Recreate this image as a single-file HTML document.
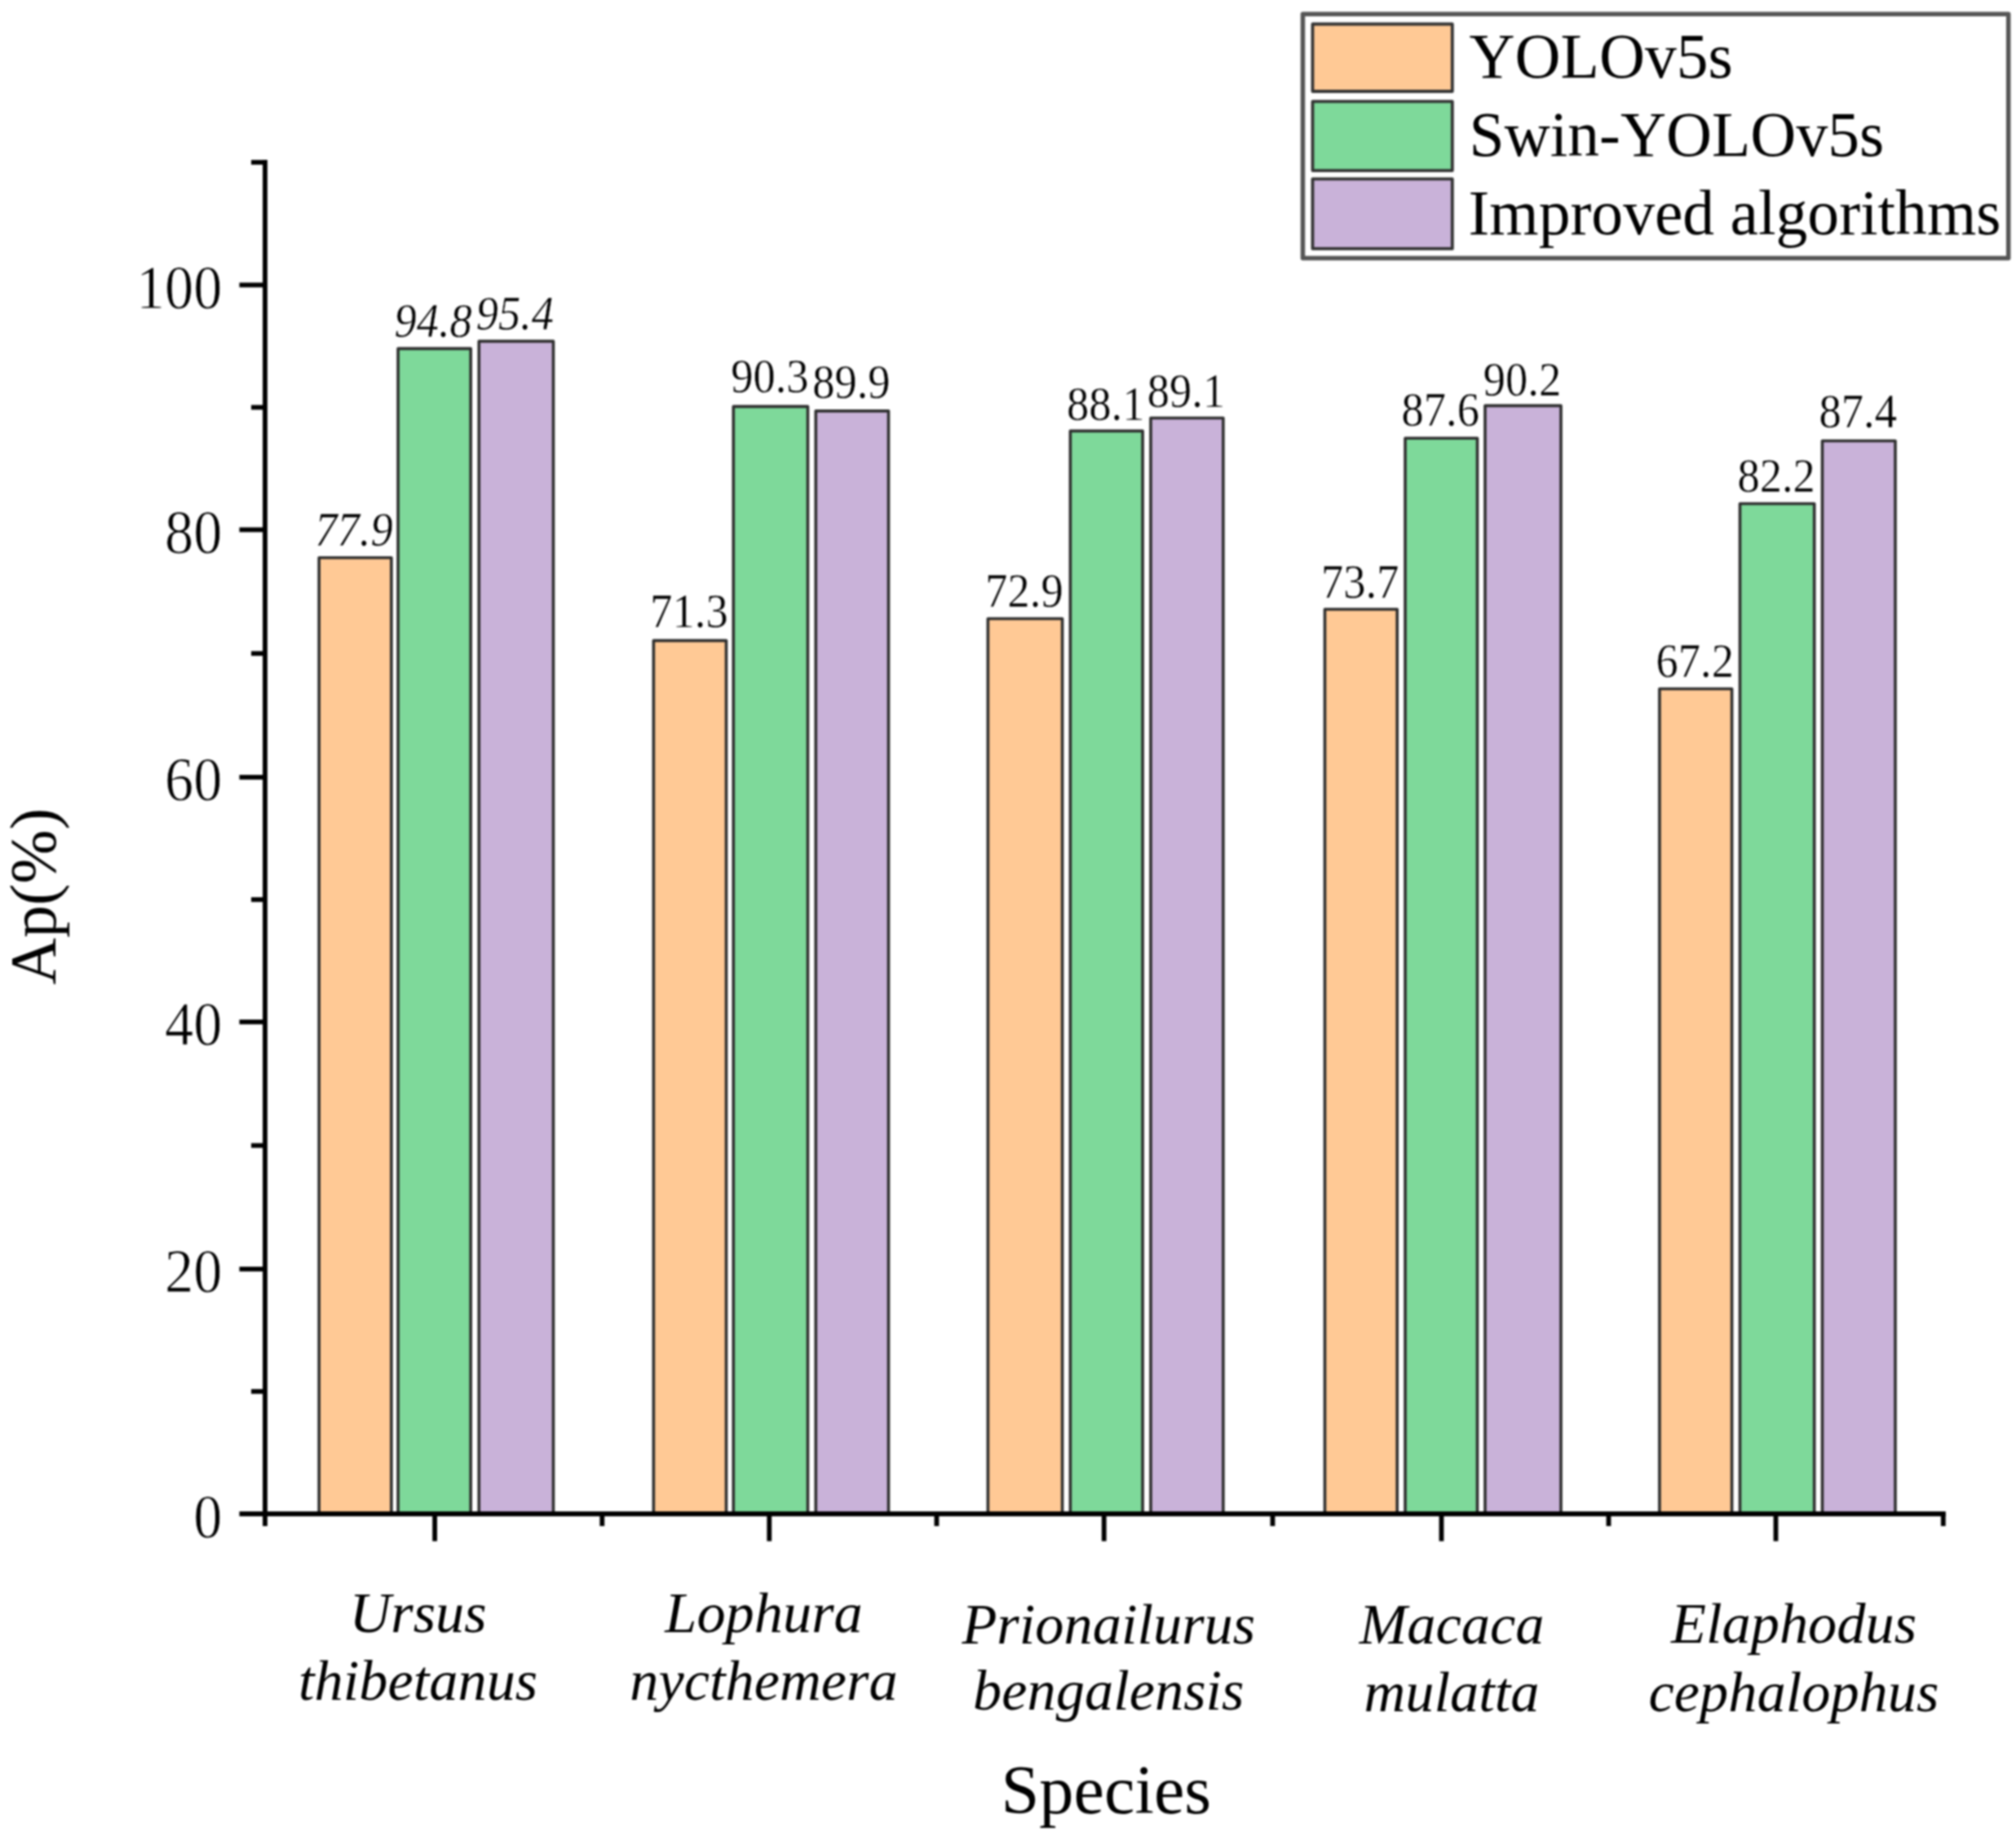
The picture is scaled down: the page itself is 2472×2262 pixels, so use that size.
<!DOCTYPE html>
<html lang="en"><head><meta charset="utf-8"><title>AP by species</title>
<style>html,body{margin:0;padding:0;background:#fff;overflow:hidden}svg{display:block;filter:blur(0.8px)}text{font-family:"Liberation Serif",serif;fill:#000}.tk{font-size:70.4px;stroke:#fff;stroke-width:0.8px}.cat{font-size:70.4px;font-style:italic;text-anchor:middle}.val{font-size:54.5px;font-style:italic;text-anchor:middle;stroke:#fff;stroke-width:0.4px}.leg{font-size:77.6px}.ttl{font-size:84.4px;text-anchor:middle}</style></head><body>
<svg width="2472" height="2262" viewBox="0 0 2472 2262">
<rect width="2472" height="2262" fill="#fff"/>
<g stroke="#2e2e2e" stroke-width="3.6" stroke-linejoin="round">
<rect x="391.20" y="683.71" width="88.70" height="1172.29" fill="#FFC995"/>
<rect x="488.10" y="427.41" width="89.10" height="1428.59" fill="#7ED99A"/>
<rect x="587.30" y="418.41" width="91.20" height="1437.59" fill="#C9B2D9"/>
<rect x="801.40" y="785.35" width="89.10" height="1070.65" fill="#FFC995"/>
<rect x="899.30" y="498.42" width="91.20" height="1357.58" fill="#7ED99A"/>
<rect x="1000.30" y="503.83" width="89.20" height="1352.17" fill="#C9B2D9"/>
<rect x="1211.40" y="758.57" width="91.20" height="1097.43" fill="#FFC995"/>
<rect x="1312.40" y="528.33" width="88.70" height="1327.67" fill="#7ED99A"/>
<rect x="1411.00" y="512.53" width="88.90" height="1343.47" fill="#C9B2D9"/>
<rect x="1624.50" y="747.04" width="88.70" height="1108.96" fill="#FFC995"/>
<rect x="1723.05" y="537.23" width="88.45" height="1318.77" fill="#7ED99A"/>
<rect x="1821.00" y="497.42" width="93.00" height="1358.58" fill="#C9B2D9"/>
<rect x="2034.90" y="844.46" width="88.70" height="1011.54" fill="#FFC995"/>
<rect x="2133.50" y="617.44" width="91.20" height="1238.56" fill="#7ED99A"/>
<rect x="2234.50" y="540.53" width="89.50" height="1315.47" fill="#C9B2D9"/>
</g>
<g class="val">
<text transform="translate(434.0 668.9) scale(1 1.07)">77.9</text>
<text transform="translate(531.1 413.4) scale(1 1.07)">94.8</text>
<text transform="translate(631.4 404.4) scale(1 1.07)">95.4</text>
<text transform="translate(845.0 768.5) scale(1 1.07)" style="font-style:normal">71.3</text>
<text transform="translate(943.9 480.9) scale(1 1.07)" style="font-style:normal">90.3</text>
<text transform="translate(1043.9 487.5) scale(1 1.07)" style="font-style:normal">89.9</text>
<text transform="translate(1256.0 744.2) scale(1 1.07)" style="font-style:normal">72.9</text>
<text transform="translate(1355.8 514.5) scale(1 1.07)" style="font-style:normal">88.1</text>
<text transform="translate(1454.5 499.3) scale(1 1.07)" style="font-style:normal">89.1</text>
<text transform="translate(1667.8 732.6) scale(1 1.07)" style="font-style:normal">73.7</text>
<text transform="translate(1766.3 522.0) scale(1 1.07)" style="font-style:normal">87.6</text>
<text transform="translate(1866.5 484.9) scale(1 1.07)" style="font-style:normal">90.2</text>
<text transform="translate(2078.2 829.7) scale(1 1.07)" style="font-style:normal">67.2</text>
<text transform="translate(2178.1 603.4) scale(1 1.07)" style="font-style:normal">82.2</text>
<text transform="translate(2278.2 524.4) scale(1 1.07)" style="font-style:normal">87.4</text>
</g>
<g stroke="#000" stroke-width="5.8" fill="none" stroke-linecap="butt">
<path d="M325 196 V1871"/>
<path d="M293.5 1856 H2385.8"/>
<path d="M2382.8 1856 V1871"/>
<path d="M293.5 1555.90 H325"/>
<path d="M293.5 1252.90 H325"/>
<path d="M293.5 952.90 H325"/>
<path d="M293.5 649.45 H325"/>
<path d="M293.5 349.40 H325"/>
<path d="M308 1705.95 H325"/>
<path d="M308 1404.40 H325"/>
<path d="M308 1102.90 H325"/>
<path d="M308 801.17 H325"/>
<path d="M308 499.43 H325"/>
<path d="M308 199.00 H325"/>
<path d="M533.10 1856 V1889.5"/>
<path d="M943.30 1856 V1889.5"/>
<path d="M1353.75 1856 V1889.5"/>
<path d="M1767.50 1856 V1889.5"/>
<path d="M2177.50 1856 V1889.5"/>
<path d="M738.30 1856 V1871"/>
<path d="M1148.50 1856 V1871"/>
<path d="M1560.50 1856 V1871"/>
<path d="M1972.50 1856 V1871"/>
</g>
<g class="tk" text-anchor="end">
<text transform="translate(272.5 1884.5) scale(1 1.07)">0</text>
<text transform="translate(272.5 1584.4) scale(1 1.07)">20</text>
<text transform="translate(272.5 1281.4) scale(1 1.07)">40</text>
<text transform="translate(272.5 981.4) scale(1 1.07)">60</text>
<text transform="translate(272.5 678.0) scale(1 1.07)">80</text>
<text transform="translate(272.5 377.9) scale(1 1.07)">100</text>
</g>
<g class="cat">
<text x="512.6" y="2001">Ursus</text><text x="512.6" y="2083.5">thibetanus</text>
<text x="936.5" y="2000.5">Lophura</text><text x="936.5" y="2083.7">nycthemera</text>
<text x="1359.3" y="2015">Prionailurus</text><text x="1359.3" y="2095.7">bengalensis</text>
<text x="1780" y="2015">Macaca</text><text x="1780" y="2098">mulatta</text>
<text x="2199.5" y="2014.3">Elaphodus</text><text x="2199.5" y="2097.7">cephalophus</text>
</g>
<text class="ttl" x="1356.3" y="2223.2">Species</text>
<text class="ttl" style="font-size:79.5px" transform="translate(68.3 1099) rotate(-90)">Ap(%)</text>
<rect x="1597.5" y="17.3" width="865.2" height="299.2" fill="#fff" stroke="#555" stroke-width="5.5" stroke-linejoin="round"/>
<g stroke="#333" stroke-width="3.8" stroke-linejoin="round">
<rect x="1609.5" y="29.5" width="171.3" height="82.5" fill="#FFC995"/>
<rect x="1609.5" y="124.4" width="171.3" height="84.7" fill="#7ED99A"/>
<rect x="1609.5" y="219.3" width="171.3" height="85.6" fill="#C9B2D9"/>
</g>
<g class="leg"><text x="1801.5" y="95">YOLOv5s</text><text x="1801.5" y="190.5">Swin-YOLOv5s</text><text x="1800.5" y="287.3">Improved algorithms</text></g>
</svg></body></html>
